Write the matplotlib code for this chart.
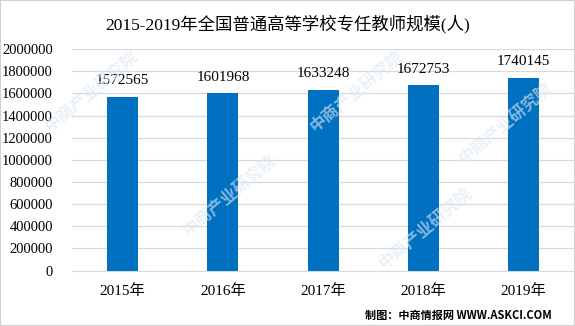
import matplotlib
matplotlib.use("Agg")
import matplotlib.pyplot as plt
from matplotlib.patches import Rectangle

years = ["2015年", "2016年", "2017年", "2018年", "2019年"]
teachers = [1572565, 1601968, 1633248, 1672753, 1740145]
y_ticks = [0, 200000, 400000, 600000, 800000, 1000000, 1200000,
           1400000, 1600000, 1800000, 2000000]

fam = ["Liberation Serif", "Noto Sans CJK SC"]
plt.rcParams["font.family"] = fam

fig = plt.figure(figsize=(5.75, 3.26), dpi=100)
ax = fig.add_axes([0.126, 0.17, 0.872, 0.679])

x = range(len(years))
ax.bar(x, teachers, width=0.31, color="#0070C0", zorder=3)
for i, v in enumerate(teachers):
    ax.annotate(str(v), (i, v), xytext=(0, 7), textcoords="offset points",
                ha="center", va="bottom", fontsize=11, color="#000000")

ax.set_xlim(-0.5, len(years) - 0.5)
ax.set_ylim(0, 2000000)
ax.set_yticks(y_ticks)
ax.set_yticklabels([str(t) for t in y_ticks], fontsize=10.5)
ax.set_xticks(list(x))
ax.set_xticklabels(years, fontsize=11)
ax.tick_params(axis="y", length=0, pad=14)
ax.tick_params(axis="x", length=0, pad=10)
ax.yaxis.grid(True, color="#d9d9d9", linewidth=0.9, zorder=0)
for s in ["top", "right", "left"]:
    ax.spines[s].set_visible(False)
ax.spines["bottom"].set_color("#d9d9d9")

fig.text(0.5, 0.925, "2015-2019年全国普通高等学校专任教师规模(人)",
         ha="center", va="center", fontsize=12.5)
fig.text(0.96, 0.013, "制图：中商情报网 WWW.ASKCI.COM", ha="right", va="bottom",
         fontsize=8, fontweight="bold", family=["Noto Sans CJK SC", "DejaVu Sans"])

# faint watermark, kept inside the figure
marks = [(0.16, 0.72), (0.40, 0.40), (0.62, 0.72), (0.74, 0.30), (0.88, 0.62)]
for mx, my in marks:
    fig.text(mx, my, "中商产业研究院", ha="center", va="center", rotation=40,
             fontsize=12, fontweight="bold", color="#dbe8f4", alpha=0.6,
             family=["Noto Sans CJK SC"], zorder=0)

fig.patches.append(Rectangle((0, 0), 1, 1, transform=fig.transFigure,
                             fill=False, edgecolor="#d0d0d0", linewidth=1.5))

fig.savefig("out.png", dpi=100)
